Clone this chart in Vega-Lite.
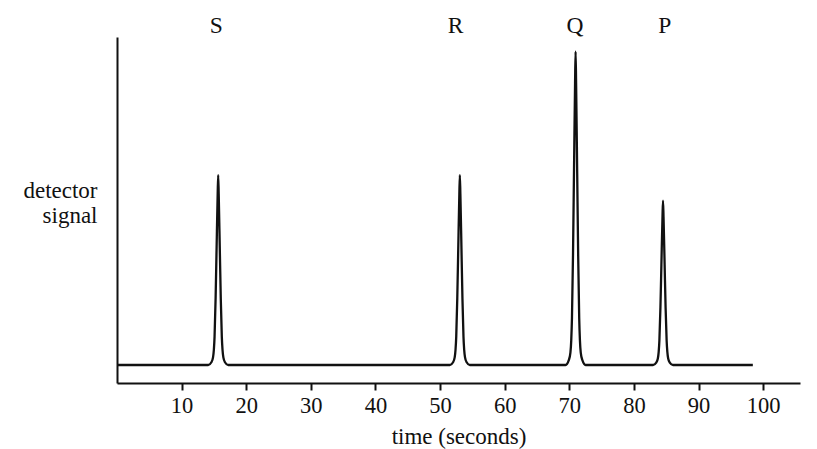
{
  "$schema": "https://vega.github.io/schema/vega-lite/v6.json",
  "width": 683,
  "height": 346,
  "autosize": {"type": "none"},
  "padding": {"left": 117, "top": 37, "right": 17, "bottom": 66},
  "background": "white",
  "config": {
    "view": {"stroke": null},
    "font": "Liberation Serif",
    "axis": {"grid": false, "domainColor": "#111111", "domainWidth": 2, "tickColor": "#111111", "tickWidth": 2, "labelColor": "#111111", "titleColor": "#111111", "labelFont": "Liberation Serif", "titleFont": "Liberation Serif", "labelFontSize": 22.5, "titleFontSize": 23, "titleFontWeight": "normal"}
  },
  "datasets": {
    "signal": [
      {"t": 0, "s": 5.2},
      {"t": 14.11, "s": 5.2}, {"t": 14.61, "s": 6.0}, {"t": 14.86, "s": 7.4}, {"t": 14.99, "s": 9.6}, {"t": 15.10, "s": 13.4}, {"t": 15.26, "s": 24.4}, {"t": 15.41, "s": 38.7}, {"t": 15.58, "s": 54.6}, {"t": 15.66, "s": 60.1}, {"t": 15.74, "s": 54.6}, {"t": 15.91, "s": 38.7}, {"t": 16.06, "s": 24.4}, {"t": 16.22, "s": 13.4}, {"t": 16.33, "s": 9.6}, {"t": 16.46, "s": 7.4}, {"t": 16.71, "s": 6.0}, {"t": 17.21, "s": 5.2},
      {"t": 51.51, "s": 5.2}, {"t": 52.01, "s": 6.0}, {"t": 52.26, "s": 7.4}, {"t": 52.39, "s": 9.6}, {"t": 52.50, "s": 13.4}, {"t": 52.66, "s": 24.4}, {"t": 52.81, "s": 38.7}, {"t": 52.98, "s": 54.6}, {"t": 53.06, "s": 60.1}, {"t": 53.14, "s": 54.6}, {"t": 53.31, "s": 38.7}, {"t": 53.46, "s": 24.4}, {"t": 53.62, "s": 13.4}, {"t": 53.73, "s": 9.6}, {"t": 53.86, "s": 7.4}, {"t": 54.11, "s": 6.0}, {"t": 54.61, "s": 5.2},
      {"t": 69.42, "s": 5.2}, {"t": 69.92, "s": 6.6}, {"t": 70.17, "s": 8.8}, {"t": 70.30, "s": 12.4}, {"t": 70.41, "s": 18.8}, {"t": 70.57, "s": 36.9}, {"t": 70.72, "s": 60.5}, {"t": 70.89, "s": 86.7}, {"t": 70.97, "s": 95.8}, {"t": 71.05, "s": 86.7}, {"t": 71.22, "s": 60.5}, {"t": 71.37, "s": 36.9}, {"t": 71.53, "s": 18.8}, {"t": 71.64, "s": 12.4}, {"t": 71.77, "s": 8.8}, {"t": 72.02, "s": 6.6}, {"t": 72.52, "s": 5.2},
      {"t": 82.95, "s": 5.2}, {"t": 83.45, "s": 5.9}, {"t": 83.70, "s": 7.1}, {"t": 83.83, "s": 9.0}, {"t": 83.94, "s": 12.3}, {"t": 84.10, "s": 21.8}, {"t": 84.25, "s": 34.2}, {"t": 84.42, "s": 48.0}, {"t": 84.5, "s": 52.7}, {"t": 84.58, "s": 48.0}, {"t": 84.75, "s": 34.2}, {"t": 84.90, "s": 21.8}, {"t": 85.06, "s": 12.3}, {"t": 85.17, "s": 9.0}, {"t": 85.30, "s": 7.1}, {"t": 85.55, "s": 5.9}, {"t": 86.05, "s": 5.2},
      {"t": 98.4, "s": 5.2}
    ],
    "labels": [
      {"t": 15.35, "s": 103.1, "name": "S"},
      {"t": 52.41, "s": 103.1, "name": "R"},
      {"t": 70.86, "s": 103.1, "name": "Q"},
      {"t": 84.79, "s": 103.1, "name": "P"}
    ]
  },
  "layer": [
    {
      "data": {"name": "signal"},
      "mark": {"type": "line", "color": "#111111", "strokeWidth": 2.3, "interpolate": "monotone", "strokeJoin": "round", "clip": false},
      "encoding": {
        "x": {"field": "t", "type": "quantitative", "scale": {"domain": [0, 105.7], "nice": false, "zero": false},
          "axis": {"values": [10, 20, 30, 40, 50, 60, 70, 80, 90, 100], "tickSize": 7, "labelPadding": 4, "title": "time (seconds)", "titleBaseline": "alphabetic", "titleY": 60}},
        "y": {"field": "s", "type": "quantitative", "scale": {"domain": [0, 100], "nice": false},
          "axis": {"ticks": false, "labels": false, "title": ["detector", "signal"], "titleAngle": 0, "titleAlign": "right", "titleBaseline": "alphabetic", "titleX": -20, "titleY": 160, "titleLineHeight": 25}}
      }
    },
    {
      "data": {"name": "labels"},
      "mark": {"type": "text", "font": "Liberation Serif", "fontSize": 23.5, "color": "#111111", "baseline": "middle", "align": "center", "clip": false},
      "encoding": {
        "x": {"field": "t", "type": "quantitative"},
        "y": {"field": "s", "type": "quantitative"},
        "text": {"field": "name"}
      }
    }
  ]
}
